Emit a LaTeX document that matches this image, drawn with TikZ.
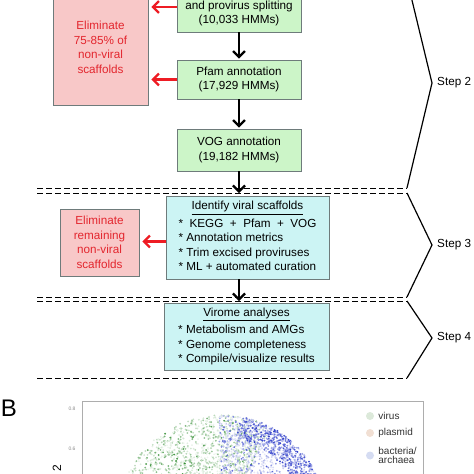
\documentclass[tikz,border=0pt]{standalone}
\usepackage{fontspec}
\setmainfont{Liberation Sans}
\usepackage{tikz}
\usepackage{xcolor}
\usetikzlibrary{
  positioning, arrows.meta, calc,
}
\definecolor{cGreenBox}  {HTML}{CCF5C8}
\definecolor{cCyanBox}   {HTML}{CCF4F4}
\definecolor{cPinkBox}   {HTML}{F8C8C8}
\definecolor{cRedText}   {HTML}{E3262E}
\definecolor{cRedArrow}  {HTML}{EE1C24}
\definecolor{cEdge}      {HTML}{6E7B7B}
\definecolor{cMuted}     {HTML}{8A8A8A}
\definecolor{cLegText}   {HTML}{333333}
\definecolor{cDotGreen}  {HTML}{2E8B2E}
\definecolor{cDotBlue}   {HTML}{2636C8}
\definecolor{cLegVirus}  {HTML}{DCE9DA}
\definecolor{cLegPlasmid}{HTML}{F1DFD3}
\definecolor{cLegBact}   {HTML}{D5DCF2}

\begin{document}
\begin{tikzpicture}[x=1pt, y=-1pt,
    box/.style={draw=cEdge, line width=0.8pt, align=center, inner sep=0pt,
      font=\fontsize{11.7}{14.5}\selectfont},
    greenbox/.style={box, fill=cGreenBox, minimum width=124pt},
    cyanbox/.style={box, fill=cCyanBox},
    pinkbox/.style={box, fill=cPinkBox, text=cRedText},
    blkarrow/.style={-{Straight Barb[length=6pt,width=12pt]}, line width=2.2pt},
    redarrow/.style={blkarrow, cRedArrow, shorten >=3pt},
    sepline/.style={line width=1pt, dash pattern=on 6pt off 3pt},
    bracket/.style={line width=1.2pt, line join=miter},
    steplbl/.style={font=\fontsize{11.7}{14}\selectfont, anchor=west, inner sep=0pt},
    legdot/.style={circle, minimum size=8pt, inner sep=0pt},
    legtext/.style={font=\fontsize{10}{9.5}\selectfont, text=cLegText, align=left, inner sep=0pt},
    ticklbl/.style={font=\fontsize{5}{5}\selectfont, text=cMuted, inner sep=0pt},
  ]
  \useasboundingbox (0,0) rectangle (474,474);

  % panel A: pipeline boxes
  \node[greenbox, minimum height=37pt] (split) at (239,13.5)
    {and provirus splitting\\(10,033 HMMs)};
  \node[greenbox, minimum height=39pt] (pfam) at (239,79.5)
    {Pfam annotation\\(17,929 HMMs)};
  \node[greenbox, minimum height=42pt] (vog) at (239,150)
    {VOG annotation\\(19,182 HMMs)};
  \node[cyanbox, minimum width=163pt, minimum height=83pt] (ident) at (247.5,237.5)
    {\begin{tabular}{@{}l@{}}
      \multicolumn{1}{@{}c@{}}{\underline{Identify viral scaffolds}}\\[3pt]
      {*}\ \ KEGG\ \ +\ \ Pfam\ \ +\ \ VOG\\
      {*} Annotation metrics\\
      {*} Trim excised proviruses\\
      {*} ML + automated curation
    \end{tabular}};
  \node[cyanbox, minimum width=165pt, minimum height=67pt] (virome) at (246.5,336.5)
    {\begin{tabular}{@{}l@{}}
      \multicolumn{1}{@{}c@{}}{\underline{Virome analyses}}\\[3pt]
      {*} Metabolism and AMGs\\
      {*} Genome completeness\\
      {*} Compile/visualize results
    \end{tabular}};
  \node[pinkbox, minimum width=95pt, minimum height=115pt] (elim1) at (100.5,47.5)
    {Eliminate\\75-85\% of\\non-viral\\scaffolds};
  \node[pinkbox, minimum width=79pt, minimum height=67pt] (elim2) at (99.5,242.5)
    {Eliminate\\remaining\\non-viral\\scaffolds};

  % step brackets
  \coordinate (b2top) at (410,-8);
  \coordinate (b2tip) at (432,83);
  \coordinate (b2end) at (407,188);
  \coordinate (b3top) at (407,193);
  \coordinate (b3tip) at (432,245);
  \coordinate (b3end) at (407,297);
  \coordinate (b4top) at (407,301);
  \coordinate (b4tip) at (432,338);
  \coordinate (b4end) at (407,378);

  \draw[sepline] (37,188) -- (b2end);
  \draw[sepline] (37,193) -- (b3top);
  \draw[sepline] (37,297) -- (b3end);
  \draw[sepline] (37,301) -- (b4top);
  \draw[sepline] (37,378) -- (b4end);

  \draw[bracket] (b2top) -- (b2tip) -- (b2end);
  \draw[bracket] (b3top) -- (b3tip) -- (b3end);
  \draw[bracket] (b4top) -- (b4tip) -- (b4end);
  \node[steplbl] (step2) at ([xshift=5pt]b2tip) {Step 2};
  \node[steplbl] (step3) at ([xshift=5pt]b3tip) {Step 3};
  \node[steplbl] (step4) at ([xshift=5pt]b4tip) {Step 4};

  % arrows
  \draw[blkarrow, shorten >=1pt] (split) -- (pfam);
  \draw[blkarrow, shorten >=1pt] (pfam) -- (vog);
  \draw[blkarrow] (vog.south) -- (vog.south |- b3top);
  \draw[blkarrow] (ident.south -| vog.south) -- (vog.south |- b4top);
  \coordinate (r1from) at ([yshift=6.5pt]split.west);
  \coordinate (r3from) at ([yshift=-4pt]ident.west);
  \draw[redarrow] (r1from) -- (r1from -| elim1.east);
  \draw[redarrow] (pfam.west) -- (pfam.west -| elim1.east);
  \draw[redarrow] (r3from) -- (r3from -| elim2.east);

  % panel B: scatter
  \node[font=\fontsize{24}{24}\selectfont, inner sep=0pt] (panelB) at (9,408.5) {B};
  \node[ticklbl] (tick08) at (72,409) {0.8};
  \node[ticklbl] (tick06) at (72,449) {0.6};
  \node[rotate=90, font=\fontsize{12}{12}\selectfont, inner sep=0pt] (ylab) at (57,468) {2};

  \begin{scope}
    \clip (82,401) rectangle (423,474);
    \pgfmathsetseed{42}
    \foreach \i in {1,...,1600} {
      \pgfmathsetmacro\ang{62+98*rnd}
      \pgfmathsetmacro\rad{105*rnd^0.65}
      \pgfmathsetmacro\px{222+\rad*cos(\ang)}
      \pgfmathsetmacro\py{520-\rad*sin(\ang)}
      \pgfmathtruncatemacro\pct{8+92*rnd*rnd}
      \fill[cDotGreen!\pct!white] (\px,\py) circle (1);
    }
    \foreach \i in {1,...,1100} {
      \pgfmathsetmacro\ang{18+74*rnd}
      \pgfmathsetmacro\rad{105*rnd^0.5}
      \pgfmathsetmacro\px{222+\rad*cos(\ang)}
      \pgfmathsetmacro\py{520-\rad*sin(\ang)}
      \pgfmathtruncatemacro\pct{10+90*rnd*rnd}
      \fill[cDotBlue!\pct!white] (\px,\py) circle (1);
    }
    \foreach \i in {1,...,450} {
      \pgfmathsetmacro\ang{18+62*rnd}
      \pgfmathsetmacro\rad{105*(0.78+0.22*rnd)}
      \pgfmathsetmacro\px{222+\rad*cos(\ang)}
      \pgfmathsetmacro\py{520-\rad*sin(\ang)}
      \pgfmathtruncatemacro\pct{30+70*rnd}
      \fill[cDotBlue!\pct!white] (\px,\py) circle (1);
    }
  \end{scope}
  \draw[cMuted!70, line width=0.8pt] (82,401) rectangle (423,490);

  % legend
  \node[legdot, fill=cLegVirus] (dvirus) at (370,416) {};
  \node[legdot, fill=cLegPlasmid] (dplasmid) at (370,433) {};
  \node[legdot, fill=cLegBact] (dbact) at (370,455.5) {};
  \node[legtext, right=4pt of dvirus] (lvirus) {virus};
  \node[legtext, right=4pt of dplasmid] (lplasmid) {plasmid};
  \node[legtext, right=4pt of dbact] (lbact) {bacteria/\\archaea};
\end{tikzpicture}
\end{document}
